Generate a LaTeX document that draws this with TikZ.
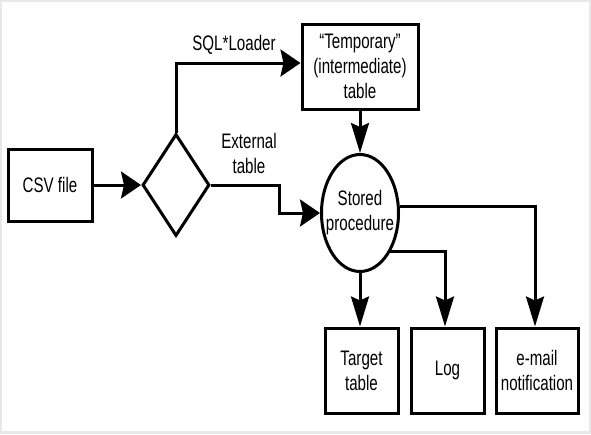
\documentclass[tikz,border=0pt]{standalone}
\usepackage{fontspec}
\setmainfont{Liberation Sans}[FakeStretch=0.72]
\usetikzlibrary{shapes.geometric,arrows.meta,calc}
\begin{document}
\begin{tikzpicture}[x=1pt,y=-1pt,line width=3pt,
  txt/.style={font=\fontsize{21}{25}\selectfont,align=center,inner sep=0pt},
  box/.style={txt,draw,rectangle},
  harr/.style={-{Stealth[length=20pt,width=27pt,inset=3pt]}},
  varr/.style={-{Stealth[length=30pt,width=18pt,inset=4pt]}}]
\useasboundingbox (0,0) rectangle (591,434);
\fill[black!9] (0,0) rectangle (591,434);
\fill[white] (2,2) rectangle (589,431);
% nodes
\node[box,minimum width=84pt,minimum height=72pt] (csv) at (50,185) {CSV file};
\node[draw,diamond,minimum width=67pt,minimum height=102pt,inner sep=0pt] (dia) at (176,185) {};
\node[box,minimum width=116pt,minimum height=85pt] (temp) at (360,66.5) {“Temporary”\\(intermediate)\\table};
\node[draw,ellipse,minimum width=77pt,minimum height=117pt,inner sep=0pt] (sp) at (360,213) {};
\node[txt] (sptext) at (sp.center) {Stored\\procedure};
\node[box,minimum width=73pt,minimum height=85pt] (target) at (361.5,370.5) {Target\\table};
\node[box,minimum width=73pt,minimum height=85pt] (log) at (447.5,370.5) {Log};
\node[box,minimum width=82pt,minimum height=85pt] (email) at (537,370.5) {e-mail\\notification};
% labels
\node[txt] (sql) at (234,45) {SQL*Loader};
\node[txt] (ext) at (249,153) {External\\table};
% connectors
\coordinate (tin) at ([yshift=3.5pt]temp.west);
\draw[harr] (csv.east) -- (dia.west);
\draw[harr] (dia.north) |- (tin);
\draw[harr] (dia.east) -- ++(68,0) |- (sp.west);
\draw[varr] (temp.south) -- (sp.north);
\draw[varr] (sp.south) -- (sp.south |- target.north);
\draw[varr] (sp.9) -| ([xshift=-2pt]email.north);
\draw[varr] (sp.-52) -| ([xshift=-2.5pt]log.north);
\end{tikzpicture}
\end{document}
